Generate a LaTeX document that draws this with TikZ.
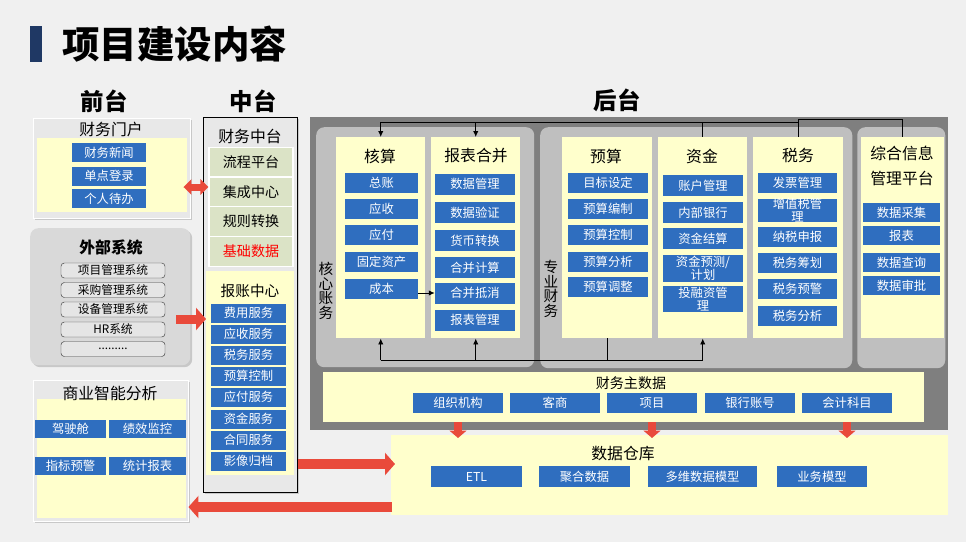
\documentclass[tikz,border=0pt]{standalone}
\usepackage{fontspec}
\setmainfont{Noto Sans CJK SC}
\usepackage{tikz}
\usetikzlibrary{arrows.meta, positioning, shadows, calc}

\definecolor{pagegrey}{HTML}{F0F0F0}
\definecolor{barnavy}{HTML}{1F3864}
\definecolor{btnblue}{HTML}{2F6EBF}
\definecolor{paleyellow}{HTML}{FFFFCC}
\definecolor{panelgrey}{HTML}{BFBFBF}
\definecolor{darkgrey}{HTML}{7F7F7F}
\definecolor{sagegreen}{HTML}{DBE3C6}
\definecolor{arrowred}{HTML}{E94A3B}
\definecolor{extgrey}{HTML}{D9D9D9}
\definecolor{headgrey}{HTML}{E8E8E8}

\begin{document}
\begin{tikzpicture}[
    x=0.3mm, y=-0.3mm,
    font=\fontsize{10.5}{12}\selectfont,
    plainarea/.style={
        anchor=north west,
        inner sep=0
    },
    softshadow/.style={
        drop shadow={shadow xshift=0.6mm, shadow yshift=-0.6mm, opacity=0.35}
    },
    panel/.style={
        plainarea,
        fill=panelgrey,
        rounded corners=2.4mm,
        softshadow
    },
    column/.style={
        plainarea,
        fill=paleyellow,
        minimum height=60.3mm
    },
    bluebtn/.style={
        fill=btnblue,
        text=white,
        inner sep=0,
        minimum height=6mm,
        align=center,
        font=\fontsize{10.5}{11}\selectfont
    },
    greenblock/.style={
        fill=sagegreen,
        draw=white,
        line width=1pt,
        inner sep=0,
        minimum width=25.2mm,
        minimum height=8.9mm,
        font=\fontsize{12}{13}\selectfont
    },
    sysitem/.style={
        draw=black!75,
        fill=black!10,
        rounded corners=1mm,
        inner sep=0,
        minimum width=31.2mm,
        minimum height=4.5mm,
        font=\fontsize{10}{11}\selectfont
    },
    boxtitle/.style={
        inner sep=0,
        font=\fontsize{13.5}{15}\selectfont
    },
    heading/.style={
        inner sep=0,
        font=\fontsize{20}{22}\selectfont\bfseries
    },
    linkline/.style={
        draw=black,
        line width=0.8pt
    },
    redarrow/.style={
        draw=arrowred,
        line width=3mm,
        -{Triangle[length=3mm, width=6.6mm]}
    }
]

% page
\fill[pagegrey] (0,0) rectangle (966,542);

% title
\fill[barnavy] (30,26) rectangle (42,62);
\node[anchor=west, inner sep=0, font=\fontsize{32}{34}\selectfont\bfseries] (title) at (62,44) {项目建设内容};

\node[heading] (front) at (104,101) {前台};
\node[heading] (middle) at (253,101) {中台};
\node[heading] (back) at (617,100) {后台};

% ------------------------------------------------------------
% front: portal, external systems, BI
% ------------------------------------------------------------
\node[plainarea, fill=headgrey, draw=white, softshadow,
      minimum width=47.1mm, minimum height=30mm] (portal) at (33,118) {};
\node[plainarea, fill=paleyellow, minimum width=45mm, minimum height=22.2mm] (portalin) at (37,138) {};
\node[boxtitle] (portalt) at (111,129) {财务门户};
\node[bluebtn, minimum width=22.2mm, minimum height=5.7mm] (news) at (109,152.5) {财务新闻};
\node[bluebtn, minimum width=22.2mm, minimum height=5.7mm] (sso) at (109,176) {单点登录};
\node[bluebtn, minimum width=22.2mm, minimum height=5.7mm] (todo) at (109,198.5) {个人待办};

\node[plainarea, fill=extgrey, rounded corners=2.4mm, softshadow,
      minimum width=48mm, minimum height=41.1mm] (ext) at (30,228) {};
\node[boxtitle, font=\fontsize{13.5}{15}\selectfont\bfseries] (extt) at (111,247) {外部系统};
\node[sysitem] (sys1) at (113,270.5) {项目管理系统};
\node[sysitem] (sys2) at (113,290) {采购管理系统};
\node[sysitem] (sys3) at (113,309.5) {设备管理系统};
\node[sysitem] (sys4) at (113,329.5) {HR系统};
\node[sysitem] (sys5) at (113,349) {.........};

\node[plainarea, fill=headgrey, draw=white, softshadow,
      minimum width=46.5mm, minimum height=42.3mm] (bi) at (33,380) {};
\node[plainarea, fill=paleyellow, minimum width=44.7mm, minimum height=35.7mm] (biin) at (37,399) {};
\node[boxtitle] (bit) at (110,393) {商业智能分析};
\node[bluebtn, minimum width=21.3mm, minimum height=5.4mm] (cockpit) at (70.5,429) {驾驶舱};
\node[bluebtn, minimum width=23.1mm, minimum height=5.4mm] (perf) at (147.5,429) {绩效监控};
\node[bluebtn, minimum width=21.3mm, minimum height=5.4mm] (alert) at (70.5,465.5) {指标预警};
\node[bluebtn, minimum width=23.1mm, minimum height=5.4mm] (stat) at (147.5,465.5) {统计报表};

% ------------------------------------------------------------
% middle
% ------------------------------------------------------------
\node[plainarea, fill=headgrey, draw=black, line width=0.8pt, softshadow,
      minimum width=28.2mm, minimum height=112.5mm] (mid) at (203,117) {};
\node[boxtitle] (midt) at (250,136) {财务中台};
\node[greenblock] (flow) at (251,162) {流程平台};
\node[greenblock] (integ) at (251,191.75) {集成中心};
\node[greenblock] (rule) at (251,221.5) {规则转换};
\node[greenblock, text=red] (base) at (251,251.25) {基础数据};

\node[plainarea, fill=paleyellow, minimum width=26.4mm, minimum height=61.2mm] (claim) at (206,271) {};
\node[boxtitle, font=\fontsize{12.5}{14}\selectfont] (claimt) at (250,291) {报账中心};
\node[bluebtn, minimum width=22.5mm, minimum height=5.7mm] (fee) at (248.5,313) {费用服务};
\node[bluebtn, minimum width=22.5mm, minimum height=5.7mm] (recv) at (248.5,334) {应收服务};
\node[bluebtn, minimum width=22.5mm, minimum height=5.7mm] (taxs) at (248.5,355) {税务服务};
\node[bluebtn, minimum width=22.5mm, minimum height=5.7mm] (bctl) at (248.5,376) {预算控制};
\node[bluebtn, minimum width=22.5mm, minimum height=5.7mm] (pay) at (248.5,397) {应付服务};
\node[bluebtn, minimum width=22.5mm, minimum height=5.7mm] (fund) at (248.5,419) {资金服务};
\node[bluebtn, minimum width=22.5mm, minimum height=5.7mm] (contr) at (248.5,440) {合同服务};
\node[bluebtn, minimum width=22.5mm, minimum height=5.7mm] (image) at (248.5,461) {影像归档};

% ------------------------------------------------------------
% back
% ------------------------------------------------------------
\node[plainarea, fill=darkgrey, minimum width=191.4mm, minimum height=93.9mm] (backbox) at (310,117) {};
\node[panel, minimum width=65.4mm, minimum height=72mm] (core) at (316,127) {};
\node[panel, minimum width=93.6mm, minimum height=72.3mm] (spec) at (540,127) {};
\node[panel, minimum width=26.4mm, minimum height=72.3mm] (info) at (857,127) {};

\node[align=center, inner sep=0, font=\fontsize{12.5}{12.5}\selectfont] (coret) at (326,291) {核\\心\\账\\务};
\node[align=center, inner sep=0, font=\fontsize{12.5}{12.5}\selectfont] (spect) at (551,289) {专\\业\\财\\务};

% yellow columns
\node[column, minimum width=26.7mm] (acc) at (336,137) {};
\node[column, minimum width=26.7mm] (cons) at (431,137) {};
\node[column, minimum width=27mm] (budg) at (562,137) {};
\node[column, minimum width=26.7mm] (cash) at (658,137) {};
\node[column, minimum width=27mm] (tax) at (753,137) {};
\node[column, minimum width=24.9mm] (comp) at (861,137) {};

\node[boxtitle] (acct) at (380,156) {核算};
\node[boxtitle] (const) at (476,156) {报表合并};
\node[boxtitle] (budgt) at (606,156) {预算};
\node[boxtitle] (casht) at (702,156) {资金};
\node[boxtitle] (taxt) at (798,156) {税务};
\node[boxtitle, align=center, font=\fontsize{13.5}{21.5}\selectfont] (compt) at (902,166) {综合信息\\管理平台};

% accounting
\node[bluebtn, minimum width=21.9mm] (gl) at (381.5,183) {总账};
\node[bluebtn, minimum width=21.9mm] (ar) at (381.5,209) {应收};
\node[bluebtn, minimum width=21.9mm] (ap) at (381.5,235) {应付};
\node[bluebtn, minimum width=21.9mm] (fa) at (381.5,262) {固定资产};
\node[bluebtn, minimum width=21.9mm] (cost) at (381.5,289) {成本};

% consolidation
\node[bluebtn, minimum width=24mm, minimum height=6.3mm] (dmgt) at (475,184) {数据管理};
\node[bluebtn, minimum width=24mm, minimum height=6.3mm] (dchk) at (475,212.5) {数据验证};
\node[bluebtn, minimum width=24mm, minimum height=6.3mm] (fx) at (475,240.5) {货币转换};
\node[bluebtn, minimum width=24mm, minimum height=6.3mm] (ccalc) at (475,267.5) {合并计算};
\node[bluebtn, minimum width=24mm, minimum height=6.3mm] (celim) at (475,293) {合并抵消};
\node[bluebtn, minimum width=24mm, minimum height=6.3mm] (rmgt) at (475,320) {报表管理};

% budget
\node[bluebtn, minimum width=24mm] (goal) at (608,183) {目标设定};
\node[bluebtn, minimum width=24mm] (bprep) at (608,209) {预算编制};
\node[bluebtn, minimum width=24mm] (bcon) at (608,235) {预算控制};
\node[bluebtn, minimum width=24mm] (bana) at (608,262) {预算分析};
\node[bluebtn, minimum width=24mm] (badj) at (608,287) {预算调整};

% treasury
\node[bluebtn, minimum width=24mm, minimum height=6.3mm] (accm) at (703,185.5) {账户管理};
\node[bluebtn, minimum width=24mm, minimum height=6.3mm] (ibank) at (703,212.5) {内部银行};
\node[bluebtn, minimum width=24mm, minimum height=6.3mm] (settle) at (703,238.5) {资金结算};
\node[bluebtn, minimum width=24mm, minimum height=8.1mm] (fcast) at (703,268.5) {资金预测/\\计划};
\node[bluebtn, minimum width=24mm, minimum height=7.8mm] (invest) at (703,299) {投融资管\\理};

% tax
\node[bluebtn, minimum width=23.7mm] (inv) at (797.5,183) {发票管理};
\node[bluebtn, minimum width=23.7mm, minimum height=6.9mm] (vat) at (797.5,210.5) {增值税管\\理};
\node[bluebtn, minimum width=23.7mm] (decl) at (797.5,237) {纳税申报};
\node[bluebtn, minimum width=23.7mm] (plan) at (797.5,263) {税务筹划};
\node[bluebtn, minimum width=23.7mm] (warn) at (797.5,289) {税务预警};
\node[bluebtn, minimum width=23.7mm] (tana) at (797.5,316) {税务分析};

% info platform
\node[bluebtn, minimum width=23.1mm, minimum height=5.7mm] (coll) at (901.5,212.5) {数据采集};
\node[bluebtn, minimum width=23.1mm, minimum height=5.7mm] (rpt) at (901.5,235.5) {报表};
\node[bluebtn, minimum width=23.1mm, minimum height=5.7mm] (query) at (901.5,262.5) {数据查询};
\node[bluebtn, minimum width=23.1mm, minimum height=5.7mm] (appr) at (901.5,285.5) {数据审批};

% links inside back
\coordinate (topbus) at (0,122);
\coordinate (topbus2) at (0,119);
\coordinate (botbus) at (0,360);
\draw[linkline] (acc.north |- topbus) -- (tax.north |- topbus);
\draw[linkline, -{Latex[length=1.8mm, width=1.6mm]}] (acc.north |- topbus) -- (acc.north);
\draw[linkline, -{Latex[length=1.8mm, width=1.6mm]}] (cons.north |- topbus) -- (cons.north);
\draw[linkline] (cash.north |- topbus) -- (cash.north);
\draw[linkline] (tax.north) -- (tax.north |- topbus2) -| (comp.north);

\draw[linkline] (acc.south |- botbus) -- (cash.south |- botbus);
\draw[linkline, -{Latex[length=1.8mm, width=1.6mm]}] (acc.south |- botbus) -- (acc.south);
\draw[linkline, -{Latex[length=1.8mm, width=1.6mm]}] (cons.south |- botbus) -- (cons.south);
\draw[linkline, -{Latex[length=1.8mm, width=1.6mm]}] (cash.south |- botbus) -- (cash.south);
\draw[linkline] (budg.south) -- (budg.south |- botbus);

\draw[linkline, -{Latex[length=1.8mm, width=1.6mm]}] (cost.east |- celim.west) -- (celim.west);

% master data
\node[plainarea, fill=paleyellow, minimum width=180.3mm, minimum height=15mm] (master) at (323,372) {};
\node[inner sep=0, font=\fontsize{12}{13}\selectfont] (mastert) at (631,383) {财务主数据};
\node[bluebtn, minimum width=27mm] (org) at (458,403) {组织机构};
\node[bluebtn, minimum width=27mm] (cust) at (555,403) {客商};
\node[bluebtn, minimum width=27mm] (proj) at (652,403) {项目};
\node[bluebtn, minimum width=27mm] (bank) at (750,403) {银行账号};
\node[bluebtn, minimum width=27mm] (subj) at (847,403) {会计科目};

% data warehouse
\node[plainarea, fill=paleyellow, minimum width=167.1mm, minimum height=24mm] (dw) at (391,435) {};
\node[boxtitle] (dwt) at (623,454) {数据仓库};
\node[bluebtn, minimum width=27.3mm, minimum height=6.3mm] (etl) at (476.5,476.5) {ETL};
\node[bluebtn, minimum width=27.3mm, minimum height=6.3mm] (agg) at (584.5,476.5) {聚合数据};
\node[bluebtn, minimum width=32.7mm, minimum height=6.3mm] (cube) at (702.5,476.5) {多维数据模型};
\node[bluebtn, minimum width=27mm, minimum height=6.3mm] (bizm) at (822,476.5) {业务模型};

% ------------------------------------------------------------
% red arrows
% ------------------------------------------------------------
\draw[redarrow, line width=2.4mm, -{Triangle[length=2.2mm, width=5mm]}] (org |- master.south) -- ([yshift=-0.9mm]org |- dw.north);
\draw[redarrow, line width=2.4mm, -{Triangle[length=2.2mm, width=5mm]}] (proj |- master.south) -- ([yshift=-0.9mm]proj |- dw.north);
\draw[redarrow, line width=2.4mm, -{Triangle[length=2.2mm, width=5mm]}] (subj |- master.south) -- ([yshift=-0.9mm]subj |- dw.north);

\coordinate (portalY) at (0,187);
\coordinate (extY) at (0,319);
\coordinate (dwY) at (0,464);
\coordinate (biY) at (0,507);
\draw[redarrow, line width=2.1mm, {Triangle[length=2.4mm, width=4.6mm]}-{Triangle[length=2.4mm, width=4.6mm]}]
    ([xshift=-2.1mm]portal.east |- portalY) -- (integ.west |- portalY);
\draw[redarrow, line width=2.7mm] ([xshift=-4.2mm]ext.east |- extY) -- (claim.west |- extY);
\draw[redarrow] (mid.east |- dwY) -- ([xshift=1.2mm]dw.west |- dwY);
\draw[redarrow] ([xshift=0.3mm]dw.west |- biY) -- (bi.east |- biY);

\end{tikzpicture}
\end{document}
